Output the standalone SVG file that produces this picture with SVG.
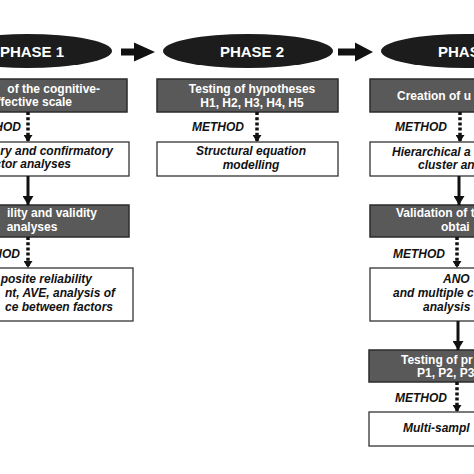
<svg xmlns="http://www.w3.org/2000/svg" width="474" height="474" viewBox="0 0 474 474">
<style>
.ell{fill:#1c1c1c}
.ph{font-family:"Liberation Sans",Arial,sans-serif;font-size:15px;fill:#fff;font-weight:bold}
.dk{fill:#595959;stroke:#2b2b2b;stroke-width:1.5}
.wt{fill:#fff;stroke:#333;stroke-width:1.3}
.dt{font-family:"Liberation Sans",Arial,sans-serif;font-size:12px;font-weight:bold;fill:#fff}
.wtx{font-family:"Liberation Sans",Arial,sans-serif;font-size:12px;font-weight:bold;font-style:italic;fill:#111}
.m{font-family:"Liberation Sans",Arial,sans-serif;font-size:12px;font-weight:bold;font-style:italic;fill:#111}
.dot{stroke:#111;stroke-width:3.5;stroke-dasharray:3 2.2;fill:none}
.sol{stroke:#111;stroke-width:3;fill:none}
.big{fill:#111}
</style>
<defs>
<marker id="hd" markerUnits="userSpaceOnUse" viewBox="0 0 7 9" markerWidth="7" markerHeight="9" refX="7" refY="4.5" orient="auto"><path d="M0,0 L7,4.5 L0,9 z" fill="#111"/></marker>
<marker id="hs" markerUnits="userSpaceOnUse" viewBox="0 0 9 11" markerWidth="9" markerHeight="11" refX="9" refY="5.5" orient="auto"><path d="M0,0 L9,5.5 L0,11 z" fill="#111"/></marker>
</defs>

<g id="phase1">
<ellipse class="ell" cx="27" cy="51" rx="85" ry="17"/>
<text class="ph" x="32" y="57" text-anchor="middle">PHASE 1</text>
</g>
<g id="phase2">
<ellipse class="ell" cx="248" cy="51" rx="85" ry="17"/>
<text class="ph" x="252" y="57" text-anchor="middle">PHASE 2</text>
</g>
<g id="phase3">
<ellipse class="ell" cx="466" cy="51" rx="85" ry="17"/>
<text class="ph" x="438" y="57">PHASE 3</text>
</g>

<g id="p1-dev">
<rect class="dk" x="-60" y="79" width="187" height="33"/>
<text class="dt" x="100" y="93" text-anchor="end">of the cognitive-</text>
<text class="dt" x="72" y="106" text-anchor="end">ffective scale</text>
</g>
<g id="p1-efa">
<rect class="wt" x="-60" y="142" width="189" height="34"/>
<text class="wtx" x="113" y="155" text-anchor="end">ry and confirmatory</text>
<text class="wtx" x="71" y="168" text-anchor="end">ctor analyses</text>
</g>
<g id="p1-rel">
<rect class="dk" x="-60" y="205" width="189" height="32"/>
<text class="dt" x="97" y="217" text-anchor="end">ility and validity</text>
<text class="dt" x="32" y="231" text-anchor="middle">analyses</text>
</g>
<g id="p1-comp">
<rect class="wt" x="-60" y="268" width="193" height="53"/>
<text class="wtx" x="92" y="283" text-anchor="end">posite reliability</text>
<text class="wtx" x="115" y="297" text-anchor="end">nt, AVE, analysis of</text>
<text class="wtx" x="113" y="311" text-anchor="end">ce between factors</text>
</g>

<g id="p2-test">
<rect class="dk" x="157" y="79" width="181" height="33"/>
<text class="dt" x="252" y="93" text-anchor="middle">Testing of hypotheses</text>
<text class="dt" x="252" y="107" text-anchor="middle">H1, H2, H3, H4, H5</text>
</g>
<g id="p2-sem">
<rect class="wt" x="157" y="142" width="181" height="34"/>
<text class="wtx" x="251" y="155" text-anchor="middle">Structural equation</text>
<text class="wtx" x="251" y="169" text-anchor="middle">modelling</text>
</g>

<g id="p3-create">
<rect class="dk" x="370" y="79" width="120" height="33"/>
<text class="dt" x="397" y="100">Creation of u</text>
</g>
<g id="p3-hier">
<rect class="wt" x="370" y="142" width="120" height="34"/>
<text class="wtx" x="392" y="156">Hierarchical a</text>
<text class="wtx" x="418" y="169">cluster an</text>
</g>
<g id="p3-valid">
<rect class="dk" x="370" y="205" width="120" height="32"/>
<text class="dt" x="396" y="217">Validation of t</text>
<text class="dt" x="441" y="231">obtai</text>
</g>
<g id="p3-anova">
<rect class="wt" x="370" y="268" width="120" height="53"/>
<text class="wtx" x="443" y="283">ANO</text>
<text class="wtx" x="393" y="297">and multiple c</text>
<text class="wtx" x="423" y="311">analysis</text>
</g>
<g id="p3-testp">
<rect class="dk" x="369" y="350" width="121" height="32"/>
<text class="dt" x="401" y="364">Testing of pr</text>
<text class="dt" x="417" y="377">P1, P2, P3</text>
</g>
<g id="p3-multi">
<rect class="wt" x="369" y="412" width="121" height="34"/>
<text class="wtx" x="403" y="432">Multi-sampl</text>
</g>

<g id="connectors">
<polygon class="big" points="121,48.5 134,48.5 134,42.5 155,52 134,61.5 134,55.5 121,55.5"/>
<polygon class="big" points="338,48.5 355,48.5 355,42.5 373,52 355,61.5 355,55.5 338,55.5"/>

<line class="dot" x1="28" y1="112" x2="28" y2="142" marker-end="url(#hd)"/>
<line class="sol" x1="28" y1="176" x2="28" y2="205" marker-end="url(#hs)"/>
<line class="dot" x1="28" y1="237" x2="28" y2="268" marker-end="url(#hd)"/>

<line class="dot" x1="257" y1="112" x2="257" y2="142" marker-end="url(#hd)"/>

<line class="dot" x1="460" y1="112" x2="460" y2="142" marker-end="url(#hd)"/>
<line class="sol" x1="459" y1="176" x2="459" y2="205" marker-end="url(#hs)"/>
<line class="dot" x1="457" y1="237" x2="457" y2="268" marker-end="url(#hd)"/>
<line class="sol" x1="458" y1="321" x2="458" y2="350" marker-end="url(#hs)"/>
<line class="dot" x1="457" y1="382" x2="457" y2="412" marker-end="url(#hd)"/>

<text class="m" x="21" y="131" text-anchor="end">METHOD</text>
<text class="m" x="20" y="258" text-anchor="end">METHOD</text>
<text class="m" x="244" y="131" text-anchor="end">METHOD</text>
<text class="m" x="395" y="131">METHOD</text>
<text class="m" x="393" y="258">METHOD</text>
<text class="m" x="395" y="402">METHOD</text>
</g>
</svg>
